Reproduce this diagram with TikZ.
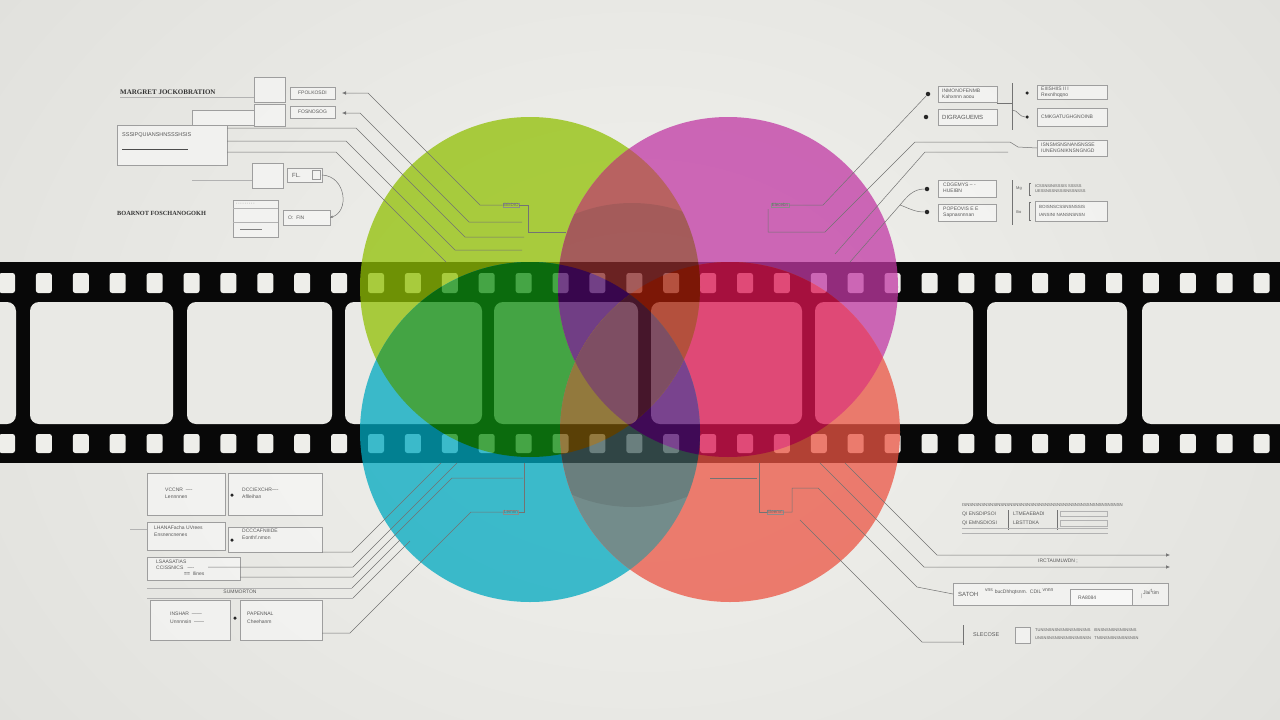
\documentclass[tikz,border=0pt]{standalone}
\usepackage{fontspec}
\setmainfont{Liberation Sans}
\newfontfamily\serf{Liberation Serif}
\usetikzlibrary{arrows.meta}
\definecolor{bg}{RGB}{236,236,232}
\definecolor{bgin}{RGB}{242,242,238}
\definecolor{bgout}{RGB}{224,224,220}
\definecolor{framec}{RGB}{233,233,229}
\definecolor{holec}{RGB}{238,238,234}
\definecolor{filmc}{RGB}{8,8,8}
\definecolor{cG}{RGB}{145,192,4}
\definecolor{cM}{RGB}{193,57,164}
\definecolor{cC}{RGB}{0,169,192}
\definecolor{cR}{RGB}{235,85,68}
\definecolor{cGC}{RGB}{13,141,15}
\definecolor{cMR}{RGB}{220,20,81}
\definecolor{cGM}{RGB}{167,52,52}
\definecolor{cCR}{RGB}{75,108,108}
\definecolor{cGMC}{RGB}{88,8,121}
\definecolor{cMCR}{RGB}{101,15,135}
\definecolor{cGMR}{RGB}{195,35,8}
\definecolor{cGCR}{RGB}{141,101,8}
\definecolor{cGMCR}{RGB}{130,40,80}
\newcommand\mkbox[5]{\node[abox, anchor=north west, minimum width={#4pt-#2pt}, minimum height={#5pt-#3pt}] (#1) at (#2,#3) {};}
\begin{document}
\begin{tikzpicture}[x=1pt,y=-1pt,
  wire/.style={draw=black!55, line width=0.5pt},
  fwire/.style={draw=black!30, line width=0.6pt},
  abox/.style={draw=black!38, line width=0.6pt, fill=white, fill opacity=0.45, inner sep=0pt, outer sep=0pt},
  txt/.style={text=black!65, font=\fontsize{5}{5.5}\selectfont, inner sep=0pt},
  ttl/.style={text=black!80, font=\serf\bfseries\fontsize{7}{8}\selectfont, inner sep=0pt},
  ctxt/.style={text=black!60, font=\fontsize{4.5}{5}\selectfont, inner sep=0.6pt, draw=black!45, line width=0.3pt},
  dot/.style={circle, fill=black!85, inner sep=0pt, minimum size=4.5pt},
  tip/.style={-{Latex[length=4pt,width=3.5pt]}}]
\useasboundingbox (0,0) rectangle (1280,720);
\shade[inner color=bgin, outer color=bgout] (-200,-300) rectangle (1480,1020);

% ---------- film strip ----------
\fill[filmc] (0,262) rectangle (1280,463);
\foreach \k in {0,...,34}{
  \fill[holec, rounded corners=2.5pt] ({-1+36.9*\k},273) rectangle ++(16,20);
  \fill[holec, rounded corners=2.5pt] ({-1+36.9*\k},434) rectangle ++(16,19);
}
\foreach \a/\b in {-30/16, 30/173, 187/332, 345/482, 494/638, 651/802, 815/973, 987/1127, 1142/1310}
  \fill[framec, rounded corners=9pt] (\a,302) rectangle (\b,424);

% ---------- circles ----------
\coordinate (g) at (530,287);
\coordinate (m) at (728,287);
\coordinate (c) at (530,432);
\coordinate (r) at (730,432);
\def\rr{170}
\begin{scope}[transparency group, opacity=0.75]
  \fill[cG] (g) circle[radius=\rr];
  \fill[cM] (m) circle[radius=\rr];
  \fill[cC] (c) circle[radius=\rr];
  \fill[cR] (r) circle[radius=\rr];
  \begin{scope}\clip (g) circle[radius=\rr]; \fill[cGC] (c) circle[radius=\rr];\end{scope}
  \begin{scope}\clip (m) circle[radius=\rr]; \fill[cMR] (r) circle[radius=\rr];\end{scope}
  \begin{scope}\clip (g) circle[radius=\rr]; \fill[cGM] (m) circle[radius=\rr];\end{scope}
  \begin{scope}\clip (c) circle[radius=\rr]; \fill[cCR] (r) circle[radius=\rr];\end{scope}
  \begin{scope}\clip (g) circle[radius=\rr]; \clip (m) circle[radius=\rr]; \fill[cGMC] (c) circle[radius=\rr];\end{scope}
  \begin{scope}\clip (m) circle[radius=\rr]; \clip (c) circle[radius=\rr]; \fill[cMCR] (r) circle[radius=\rr];\end{scope}
  \begin{scope}\clip (g) circle[radius=\rr]; \clip (m) circle[radius=\rr]; \fill[cGMR] (r) circle[radius=\rr];\end{scope}
  \begin{scope}\clip (g) circle[radius=\rr]; \clip (c) circle[radius=\rr]; \fill[cGCR] (r) circle[radius=\rr];\end{scope}
  \begin{scope}\clip (g) circle[radius=\rr]; \clip (m) circle[radius=\rr]; \clip (c) circle[radius=\rr]; \fill[cGMCR] (r) circle[radius=\rr];\end{scope}
  \begin{scope}\clip (g) circle[radius=\rr]; \clip (m) circle[radius=\rr]; \fill[black, opacity=0.16] (632,355) circle[radius=152];\end{scope}
  \begin{scope}\clip (c) circle[radius=\rr]; \clip (r) circle[radius=\rr]; \fill[black, opacity=0.16] (632,355) circle[radius=152];\end{scope}
\end{scope}

% ---------- top left annotations ----------
\node[ttl, anchor=west] (t1) at (120,92) {MARGRET JOCKOBRATION};
\mkbox{b1}{254}{77}{285}{102}
\mkbox{b2}{254}{104}{285}{126}
\mkbox{b0}{192}{110}{254}{125}
\draw[fwire] (120,97) -- (b1.west |- 0,97);
\mkbox{lb1}{290}{87}{335}{99}
\node[txt] at (lb1) {FPOLKOSDI};
\mkbox{lb2}{290}{106}{335}{118}
\node[txt] at (lb2) {FOSNOSOG};
\coordinate (a1) at (342,93);
\coordinate (a2) at (342,113);
\mkbox{b3}{117}{125}{227}{165}
\node[txt, anchor=west, font=\fontsize{5.5}{6}\selectfont] at (122,135) {SSSIPQUIANSHNSSSHSIS};
\draw[black!70, line width=1pt] (122,149) -- (188,149);
\draw[fwire] (192,180) -- (252,180);
\mkbox{b4}{252}{163}{283}{188}
\mkbox{lb3}{287}{168}{322}{182}
\node[txt, anchor=west, font=\fontsize{6}{6.5}\selectfont] at (292,175) {FL.};
\draw[black!40, line width=0.5pt] (312,170) rectangle (320,179);
\mkbox{lb4}{283}{210}{330}{225}
\node[txt, anchor=west] at (288,218) {O:\ \ FIN};
\draw[wire, -{Stealth[length=3pt]}] (lb3.east) .. controls (346,176) and (350,212) .. (lb4.east);
\mkbox{b5}{233}{200}{278}{237}
\draw[fwire] (233,208) -- (278,208);
\draw[fwire] (233,222) -- (278,222);
\draw[black!50, line width=0.4pt] (240,229) -- (262,229);
\node[txt, anchor=west, font=\fontsize{3.5}{4}\selectfont] at (236,204) {- - - - - - - - -};
\node[ttl, anchor=west, font=\serf\bfseries\fontsize{6.3}{7}\selectfont] (t2) at (117,213) {BOARNOT FOSCHANOGOKH};

% wires into green circle
\node[ctxt] (tg1) at (511,205) {EEIDIO};
\draw[wire, tip] (tg1.west) -- (480,205) -- (368,93) -- (a1);
\draw[wire, tip] (522,222) -- (469,222) -- (360,113) -- (a2);
\draw[wire] (tg1.east) -| (528,232) -- (566,232);
\coordinate (w3) at (227,128);
\coordinate (w4) at (227,141);
\coordinate (w5) at (227,152);
\draw[wire] (w3) -- (356,128) -- (465,237) -- (524,237);
\draw[wire] (w4) -- (346,141) -- (455,250) -- (522,250);
\draw[wire] (w5) -- (336,152) -- (446,262);

% ---------- top right annotations ----------
\node[dot] (rd1) at (928,94) {};
\node[dot] (rd2) at (926,117) {};
\mkbox{rb1}{938}{86}{997}{102}
\node[txt, anchor=west] at (942,91) {INMONOFENMB};
\node[txt, anchor=west] at (942,97) {Kahxnnn aoou};
\mkbox{rb2}{938}{109}{997}{125}
\node[txt, anchor=west, font=\fontsize{6}{6.5}\selectfont] at (942,117) {DIGRAGUEMS};
\draw[wire] (997,103) -- (1012,103);
\draw[wire] (1012,83) -- (1012,130);
\node[dot, minimum size=3.5pt] (rd3) at (1027,93) {};
\node[dot, minimum size=3.5pt] (rd4) at (1027,117) {};
\draw[wire] (1012,110) to[out=0,in=180] (rd4);
\mkbox{rb3}{1037}{85}{1107}{99}
\node[txt, anchor=west] at (1041,89) {EIIISHIIS II I};
\node[txt, anchor=west] at (1041,95) {RexnIhqqno};
\mkbox{rb4}{1037}{108}{1107}{126}
\node[txt, anchor=west] at (1041,117) {CMKGATUGHGNOINB};
\mkbox{rb5}{1037}{140}{1107}{156}
\node[txt, anchor=west] at (1041,145) {ISNSMSNSNANSNSSE};
\node[txt, anchor=west] at (1041,151) {IUNENGNIKNSNGNGD};
\node[dot] (rd5) at (927,189) {};
\node[dot] (rd6) at (927,212) {};
\mkbox{rb6}{938}{180}{996}{197}
\node[txt, anchor=west] at (943,185) {CDGEMYS -- -};
\node[txt, anchor=west] at (943,191) {HUEIBN};
\mkbox{rb7}{938}{204}{996}{221}
\node[txt, anchor=west] at (943,209) {POPEOVIS E E};
\node[txt, anchor=west] at (943,215) {Sapnasnnnan};
\draw[wire] (1012,180) -- (1012,225);
\node[txt, anchor=west, font=\fontsize{4}{4.5}\selectfont] at (1016,189) {Mg};
\node[txt, anchor=west, font=\fontsize{4}{4.5}\selectfont] at (1016,212) {Ilio};
\draw[wire, line width=0.8pt] (1031,183) -- (1029,183) -- (1029,195) -- (1031,195);
\draw[wire, line width=0.8pt] (1031,202) -- (1029,202) -- (1029,220) -- (1031,220);
\node[txt, anchor=west, font=\fontsize{4}{4.5}\selectfont] at (1035,186) {ICSSNSINISSSIS SSSSS};
\node[txt, anchor=west, font=\fontsize{4}{4.5}\selectfont] at (1035,191) {UESSNSSNSSISNSSNSSS};
\mkbox{rb9}{1035}{201}{1107}{221}
\node[txt, anchor=west, font=\fontsize{4.5}{5}\selectfont] at (1039,207) {BOISNSCSSNSNSSIS};
\node[txt, anchor=west, font=\fontsize{4.5}{5}\selectfont] at (1039,215) {IANSINI NANSNSNSN};

% wires into magenta circle
\node[ctxt] (tm1) at (780,205) {Elecebn};
\draw[wire] (tm1.east) -- (823,205) -- (rd1);
\draw[wire] (768,209) |- (825,232) -- (915,142) -- (1010,142) -- (1018,147) -- (rb5.west);
\coordinate (m3) at (1008,152);
\draw[wire] (835,254) -- (925,152) -- (m3);
\coordinate (m4) at (900,205);
\draw[wire] (850,262) -- (m4);
\draw[wire] (m4) to[out=50,in=180] (rd5);
\draw[wire] (m4) to[out=-20,in=180] (rd6);

% ---------- bottom left annotations ----------
\mkbox{lb5}{147}{473}{225}{515}
\node[txt, anchor=west] at (165,490) {VCCNR\ \ ----};
\node[txt, anchor=west] at (165,497) {Lennnnen};
\mkbox{lb6}{228}{473}{322}{515}
\node[dot, minimum size=3.5pt] at (232,495) {};
\node[txt, anchor=west] at (242,490) {DCCIEXCHR----};
\node[txt, anchor=west] at (242,497) {Aflleihan};
\mkbox{lb7}{147}{522}{225}{550}
\node[txt, anchor=west] at (154,528) {LHANAFacha UVrees};
\node[txt, anchor=west] at (154,535) {Ensnencnenes};
\coordinate (cl1) at (130,529);
\draw[fwire] (cl1) -- (147,529);
\mkbox{lb8}{228}{527}{322}{552}
\node[dot, minimum size=3.5pt] at (232,540) {};
\node[txt, anchor=west] at (242,531) {DCCCAFNIIIDE};
\node[txt, anchor=west] at (242,538) {Eonthf.nmon};
\mkbox{lb9}{147}{557}{240}{580}
\node[txt, anchor=west] at (156,562) {LSAASATIAS};
\node[txt, anchor=west] at (156,568) {CCISSNICS\ \ \ ----};
\node[txt, anchor=west] at (184,574) {\textbf{==}\ \ Ilines};
\draw[fwire] (147,588) -- (352,588);
\node[txt] at (240,592) {SUMMORTON};
\mkbox{lb10}{150}{600}{230}{640}
\node[txt, anchor=west] at (170,614) {INSHAR\ \ ------};
\node[txt, anchor=west] at (170,622) {Unnnnsin\ \ ------};
\mkbox{lb11}{240}{600}{322}{640}
\node[dot, minimum size=3.5pt] at (235,618) {};
\node[txt, anchor=west] at (247,614) {PAPENNAL};
\node[txt, anchor=west] at (247,622) {Cheehanm};
\draw[fwire] (147,598) -- (353,598);

% wires into cyan circle
\node[ctxt] (tc1) at (511,512) {Lemnn};
\draw[wire] (tc1.east) -- (524,512) -- (524,463);
\draw[wire] (lb8.south east) -- (352,552) -- (441,463);
\draw[wire] (208,567) -- (353,567) -- (457,463);
\draw[wire] (lb9.east |- 0,577) -- (353,577) -- (452,478) -- (523,478);
\draw[wire] (352,588) -- (400,540);
\draw[wire] (353,598) -- (410,541);
\draw[wire] (lb11.east |- 0,633) -- (350,633) -- (471,512) -- (tc1.west);

% ---------- bottom right annotations ----------
\node[txt, anchor=west, font=\fontsize{4.3}{4.8}\selectfont] at (962,505) {ISNSNSNSNSNSINSNSNSNSNSNSNSNSNSNSNSNSNSNSNSSNSNSNSNSNSN};
\node[txt, anchor=west] at (962,514) {QI ENSDIPSOI};
\node[txt, anchor=west] at (962,523) {QI EMNSDIOSI};
\node[txt, anchor=west] at (1013,514) {LTMEAEBADI};
\node[txt, anchor=west] at (1013,523) {LBSTTDKA};
\draw[wire] (1008,510) -- (1008,530);
\draw[wire] (1057,510) -- (1057,530);
\draw[fwire] (1060,511) rectangle (1107,516);
\draw[fwire] (1060,520) rectangle (1107,526);
\draw[fwire] (962,528) -- (1108,528);
\draw[fwire] (962,533) -- (1108,533);
\node[txt] at (1058,561) {IRCTAUMLWDN ;};
\coordinate (re1) at (1170,555);
\coordinate (re2) at (1170,567);
\draw[wire, tip] (845,463) -- (937,555) -- (re1);
\draw[wire, tip] (820,463) -- (924,567) -- (re2);
\mkbox{rb10}{953}{583}{1168}{605}
\node[txt, anchor=west, font=\fontsize{6}{6.5}\selectfont] at (958,594) {SATOH};
\node[txt, anchor=west] at (985,592) {$^{\rm vns}$ bucDhhqtsnm.\ \ CDIL $^{\rm vnnn}$};
\mkbox{rb11}{1070}{589}{1132}{605}
\node[txt, anchor=west] at (1078,598) {RA8084};
\node[txt, anchor=west] at (1140,594) {$_{\vert}$Jlai$^{\rm t}$tim};
\node[txt, anchor=west, font=\fontsize{5.5}{6}\selectfont] at (973,635) {SLECOSE};
\draw[wire] (963,625) -- (963,645);
\mkbox{rb12}{1015}{627}{1030}{643}
\node[txt, anchor=west, font=\fontsize{4}{4.5}\selectfont] at (1035,630) {TUNSNSNSNSNSNSNSNSNS\ \ \ ISNSNSNSNSNSNSNS};
\node[txt, anchor=west, font=\fontsize{4}{4.5}\selectfont] at (1035,638) {UNSNSNSNSNSNSNSNSNSN\ \ \ TNSNSNSNSNSNSNSN};

% wires into red circle
\node[ctxt] (tr1) at (775,512) {Eleemn};
\draw[wire] (tr1.west) -- (759,512) -- (759,463);
\draw[wire] (710,478) -- (757,478);
\draw[wire] (tr1.east) -- (792,512) -- (792,488) -- (818,488) -- (917,587) -- (rb10.west);
\coordinate (r4) at (800,520);
\draw[wire] (r4) -- (922,642) -- (963,642);
\end{tikzpicture}
\end{document}
